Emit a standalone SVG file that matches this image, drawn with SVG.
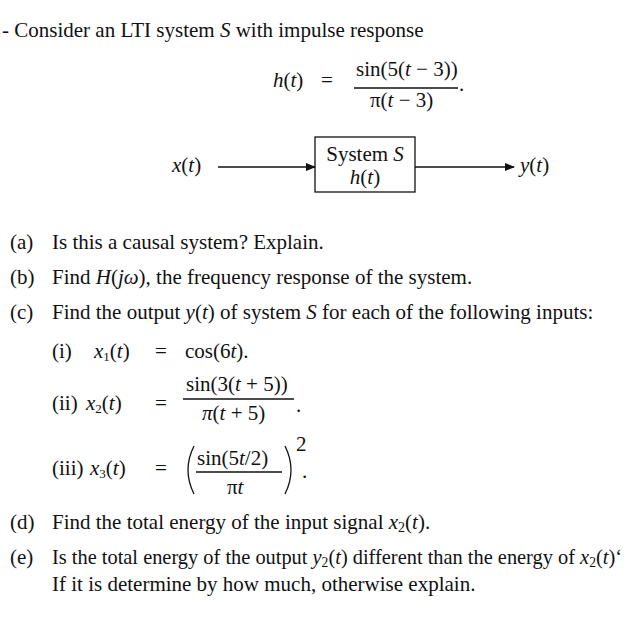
<svg xmlns="http://www.w3.org/2000/svg" width="626" height="626" viewBox="0 0 626 626">
<style>
text{font-family:"Liberation Serif","Times New Roman",serif;font-size:21px;fill:#111}
.i{font-style:italic}
.ln{stroke:#111;stroke-width:1.3;fill:none}
</style>
<defs><marker id="a" markerWidth="10" markerHeight="8" refX="9" refY="4" orient="auto" markerUnits="userSpaceOnUse"><path d="M0,0 L10,4 L0,8 Z" fill="#111"/></marker></defs>
<rect width="626" height="626" fill="#fff"/>
<text x="2" y="37" font-size="20">- Consider an LTI system <tspan class="i">S</tspan> with impulse response</text>
<text x="273" y="87" font-size="20"><tspan class="i">h</tspan>(<tspan class="i">t</tspan>)</text>
<text x="321" y="87" font-size="20">=</text>
<text x="356" y="76" font-size="20">sin(5(<tspan class="i">t</tspan> − 3))</text>
<line class="ln" x1="354" y1="88" x2="458" y2="88"/>
<text x="370" y="107" font-size="20">π(<tspan class="i">t</tspan> − 3)</text>
<text x="459" y="91">.</text>
<g id="connectors">
<line class="ln" x1="218" y1="167" x2="315" y2="167" marker-end="url(#a)"/>
<line class="ln" x1="415" y1="167" x2="514" y2="167" marker-end="url(#a)"/>
</g>
<g id="x"><text x="172" y="172" font-size="20"><tspan class="i">x</tspan>(<tspan class="i">t</tspan>)</text></g>
<g id="sys"><rect x="315" y="137" width="100" height="55" class="ln"/>
<text x="365" y="161" text-anchor="middle" font-size="20">System <tspan class="i">S</tspan></text>
<text x="365" y="184" text-anchor="middle" font-size="20"><tspan class="i">h</tspan>(<tspan class="i">t</tspan>)</text></g>
<g id="y"><text x="520" y="172" font-size="20"><tspan class="i">y</tspan>(<tspan class="i">t</tspan>)</text></g>
<text x="10" y="249">(a)</text><text x="52" y="249">Is this a causal system? Explain.</text>
<text x="10" y="284">(b)</text><text x="52" y="284">Find <tspan class="i">H</tspan>(<tspan class="i">jω</tspan>), the frequency response of the system.</text>
<text x="10" y="319">(c)</text><text x="52" y="319">Find the output <tspan class="i">y</tspan>(<tspan class="i">t</tspan>) of system <tspan class="i">S</tspan> for each of the following inputs:</text>
<text x="52" y="358" font-size="20">(i)</text><text x="94" y="358" font-size="20"><tspan class="i">x</tspan><tspan font-size="13" dy="3">1</tspan><tspan dy="-3">(</tspan><tspan class="i">t</tspan>)</text>
<text x="155" y="358" font-size="20">=</text><text x="185" y="358" font-size="20">cos(6<tspan class="i">t</tspan>).</text>
<text x="52" y="410" font-size="20">(ii)</text><text x="86" y="410" font-size="20"><tspan class="i">x</tspan><tspan font-size="13" dy="3">2</tspan><tspan dy="-3">(</tspan><tspan class="i">t</tspan>)</text>
<text x="155" y="410" font-size="20">=</text>
<text x="186" y="391" font-size="20">sin(3(<tspan class="i">t</tspan> + 5))</text>
<line class="ln" x1="183" y1="399" x2="294" y2="399"/>
<text x="202" y="420" font-size="20"><tspan class="i">π</tspan>(<tspan class="i">t</tspan> + 5)</text>
<text x="296" y="412">.</text>
<text x="52" y="475" font-size="20">(iii)</text><text x="90" y="475" font-size="20"><tspan class="i">x</tspan><tspan font-size="13" dy="3">3</tspan><tspan dy="-3">(</tspan><tspan class="i">t</tspan>)</text>
<text x="155" y="475" font-size="20">=</text>
<path class="ln" d="M194,446 Q182,470 194,494"/>
<text x="197" y="465" font-size="20">sin(5<tspan class="i">t</tspan>/2)</text>
<line class="ln" x1="196" y1="472" x2="282" y2="472"/>
<text x="227" y="494" font-size="20">π<tspan class="i">t</tspan></text>
<path class="ln" d="M285,446 Q297,470 285,494"/>
<text x="296" y="451" font-size="14">2</text>
<text x="302" y="478">.</text>
<text x="10" y="529">(d)</text><text x="52" y="529">Find the total energy of the input signal <tspan class="i">x</tspan><tspan font-size="14" dy="3">2</tspan><tspan dy="-3">(</tspan><tspan class="i">t</tspan>).</text>
<text x="10" y="564">(e)</text><text x="52" y="564" textLength="570" lengthAdjust="spacingAndGlyphs">Is the total energy of the output <tspan class="i">y</tspan><tspan font-size="14" dy="3">2</tspan><tspan dy="-3">(</tspan><tspan class="i">t</tspan>) different than the energy of <tspan class="i">x</tspan><tspan font-size="14" dy="3">2</tspan><tspan dy="-3">(</tspan><tspan class="i">t</tspan>)‘</text>
<text x="52" y="591">If it is determine by how much, otherwise explain.</text>
</svg>
